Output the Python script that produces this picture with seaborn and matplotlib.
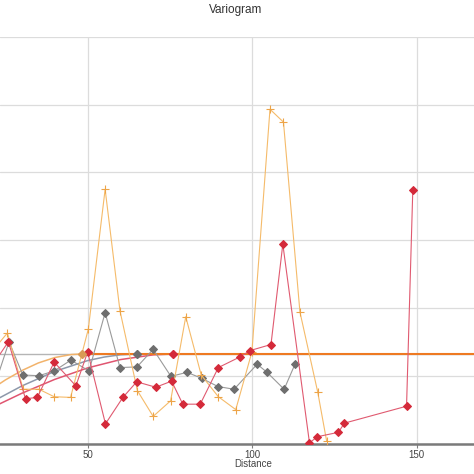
import numpy as np
import pandas as pd
import matplotlib
matplotlib.use("Agg")
import matplotlib.pyplot as plt
import seaborn as sns

# ---------------- data ----------------
gray_x = [21.0, 26.1, 30.3, 35.2, 39.8, 44.9, 50.4, 55.3, 59.8, 65.0, 69.9,
          75.3, 80.2, 84.7, 89.6, 94.5, 101.5, 104.5, 109.7, 113.0]
gray_y = [0.75, 1.50, 1.01, 1.00, 1.07, 1.23, 1.07, 1.93, 1.12, 1.13, 1.39,
          0.99, 1.05, 0.96, 0.84, 0.80, 1.17, 1.05, 0.80, 1.17]

red_x = [21.0, 25.9, 31.1, 34.7, 39.8, 46.4, 50.0, 55.4, 60.7, 64.9, 70.7,
         75.5, 78.9, 84.2, 89.7, 96.4, 99.3, 105.7, 109.3, 117.4, 119.8,
         126.2, 128.0, 146.9, 148.8]
red_y = [1.15, 1.50, 0.66, 0.68, 1.20, 0.85, 1.35, 0.29, 0.68, 0.91, 0.83,
         0.92, 0.58, 0.58, 1.12, 1.28, 1.37, 1.46, 2.94, 0.01, 0.10,
         0.165, 0.30, 0.55, 3.74]

orange_x = [20.8, 25.6, 30.4, 35.2, 39.8, 44.8, 50.2, 55.3, 59.8, 65.1, 69.9,
            75.2, 79.8, 84.5, 89.7, 95.0, 99.9, 105.4, 109.5, 114.5, 119.9, 122.6]
orange_y = [1.35, 1.63, 0.80, 0.80, 0.69, 0.68, 1.69, 3.75, 1.96, 0.78, 0.40,
            0.63, 1.87, 1.01, 0.69, 0.50, 1.35, 4.93, 4.74, 1.94, 0.76, 0.04]

# fitted model curves, ending at the sill
sill = 1.32
orange_model_x = [20, 25, 30, 35, 40, 45, 48, 170]
orange_model_y = [0.777, 0.938, 1.076, 1.188, 1.268, 1.312, 1.32, 1.32]
gray_model_x = [20, 30, 40, 50, 55, 60, 65, 170]
gray_model_y = [0.590, 0.849, 1.064, 1.223, 1.275, 1.309, 1.32, 1.32]
red_model_x = [20, 30, 40, 50, 60, 70, 76, 170]
red_model_y = [0.509, 0.741, 0.946, 1.115, 1.238, 1.308, 1.32, 1.32]
model_range = {"orange": 48.2, "gray": 65.0, "red": 76.0}

x_ticks = [50, 100, 150]
title = "Variogram"
x_label = "Distance"

# ---------------- figure ----------------
sns.set_style("white")
plt.rcParams["font.family"] = ["Liberation Sans Narrow", "Liberation Sans", "DejaVu Sans"]

fig = plt.figure(figsize=(4.74, 4.74), dpi=100)
ax = fig.add_axes([0.0, 1 - 443.5 / 474, 1.0, (443.5 - 36.7) / 474])
ax.set_xlim(23.35, 167.4)
ax.set_ylim(0, 6)

# grid
ax.set_xticks(x_ticks)
ax.set_yticks(range(0, 7))
ax.grid(True, color="#dcdcdc", linewidth=0.9)
ax.set_axisbelow(True)
for s in ["left", "right", "top"]:
    ax.spines[s].set_visible(False)
ax.spines["bottom"].set_color("#7a7a7a")
ax.spines["bottom"].set_linewidth(1.8)
ax.tick_params(axis="x", length=3, width=0.8, color="#808080", labelsize=7,
               labelcolor="#444444", pad=2, direction="out", bottom=True)
ax.tick_params(axis="y", length=0, labelleft=False)

# reference variance line
ax.axhline(sill, color="#b5b5b5", linewidth=1.0, zorder=1)

# model curves
sns.lineplot(x=gray_model_x, y=gray_model_y, color="#8d98aa", linewidth=1.1, ax=ax,
             sort=False, estimator=None, zorder=2)
sns.lineplot(x=red_model_x, y=red_model_y, color="#e05570", linewidth=1.1, ax=ax,
             sort=False, estimator=None, zorder=2)
sns.lineplot(x=orange_model_x, y=orange_model_y, color="#f2b36b", linewidth=1.1, ax=ax,
             sort=False, estimator=None, zorder=2)
ax.plot([model_range["orange"], 170], [sill, sill], color="#ee7a22", linewidth=1.5, zorder=3)

# empirical series
sns.lineplot(x=gray_x, y=gray_y, color="#9a9a9a", linewidth=0.8, marker="D",
             markersize=4.2, markerfacecolor="#6e6e6e", markeredgecolor="#6e6e6e",
             ax=ax, sort=False, estimator=None, zorder=4)
sns.lineplot(x=orange_x, y=orange_y, color="#f5bb6a", linewidth=0.8, marker="+",
             markersize=6, markeredgecolor="#eda448", markeredgewidth=0.8,
             ax=ax, sort=False, estimator=None, zorder=4)
sns.lineplot(x=red_x, y=red_y, color="#e05a70", linewidth=0.8, marker="D",
             markersize=4.2, markerfacecolor="#d42a3a", markeredgecolor="#d42a3a",
             ax=ax, sort=False, estimator=None, zorder=5)

# range markers on the sill
ax.plot([model_range["orange"]], [sill], marker="D", markersize=4.2, color="#d99a55", zorder=6)
ax.plot([model_range["gray"]], [sill], marker="D", markersize=4.2, color="#6e6e6e", zorder=6)
ax.plot([model_range["red"]], [sill], marker="D", markersize=4.2, color="#d42a3a", zorder=6)

ax.set_xlabel(x_label, fontsize=7, color="#444444")
ax.xaxis.set_label_coords(253 / 474, -0.038)
ax.set_ylabel("")
fig.text(236 / 474, 1 - 10 / 474, title, ha="center", va="center", fontsize=8.5,
         color="#333333")

fig.savefig("out.png", dpi=100)
